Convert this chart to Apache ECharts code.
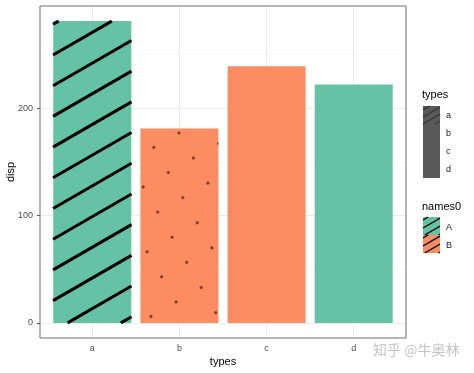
<!DOCTYPE html>
<html>
<head>
<meta charset="utf-8">
<script src="https://cdn.jsdelivr.net/npm/echarts@6/dist/echarts.min.js"></script>
<style>html,body{margin:0;padding:0;background:#fff}#c{width:474px;height:373px}</style>
</head>
<body>
<div id="c"></div>
<script>
// ---- data ----
const categories = ['a', 'b', 'c', 'd'];
const disp = [281, 181, 239, 222];
const names0 = ['A', 'B', 'B', 'A'];
const patterns = ['stripe', 'circle', 'none', 'none'];
const yMajor = [0, 100, 200];
const yMinor = [50, 150, 250];
const legendTypes = ['a', 'b', 'c', 'd'];
const legendNames = ['A', 'B'];
const xTitle = 'types';
const yTitle = 'disp';
const watermark = '知乎 @牛奥林';

const fillColors = { A: '#66C2A5', B: '#FC8D62' };
const FONT = 'Liberation Sans, Arial, sans-serif';
const BAR_W = 0.9;

function decalFor(p) {
  if (p === 'circle') return { symbol: 'circle', symbolSize: 1, dashArrayX: [[2.6, 26]], dashArrayY: [2.6, 26], rotation: -Math.PI / 6, color: 'rgba(80,35,20,0.85)' };
  return { symbol: 'none' };
}

const barData = categories.map((c, i) => ({
  value: [i + 1, disp[i]],
  itemStyle: { color: fillColors[names0[i]], decal: decalFor(patterns[i]) }
}));
const stripeData = categories.map((c, i) => [i + 1, disp[i]]).filter((d, i) => patterns[i] === 'stripe');

// clipped 30-degree line segments inside a rectangle
function stripes(x0, y0, w, h, step, lw, color, c0) {
  const t = Math.tan(Math.PI / 6);
  const els = [];
  const cMin = y0 + x0 * t, cMax = y0 + h + (x0 + w) * t;
  let c = c0;
  while (c > cMin) c -= step;
  for (; c < cMax; c += step) {
    const xa = Math.max(x0, (c - (y0 + h)) / t);
    const xb = Math.min(x0 + w, (c - y0) / t);
    if (xa < xb) els.push({ type: 'line', shape: { x1: xa, y1: c - xa * t, x2: xb, y2: c - xb * t }, style: { stroke: color, lineWidth: lw, lineCap: 'butt' }, z: 12 });
  }
  return els;
}

const graphics = [];
const LX = 423, KW = 17, KH = 18;
const tanA = Math.tan(Math.PI / 6);
graphics.push({ type: 'text', left: 422, top: 89, style: { text: 'types', font: '11px ' + FONT, fill: '#000' } });
legendTypes.forEach((t, i) => {
  const y = 106 + i * KH;
  graphics.push({ type: 'rect', shape: { x: LX, y: y, width: KW, height: KH }, style: { fill: '#595959' }, z: 11 });
  graphics.push({ type: 'text', x: 446, y: y + KH / 2 + 1, style: { text: t, font: '9px ' + FONT, fill: '#1a1a1a', verticalAlign: 'middle' } });
});
graphics.push(...stripes(LX, 106, KW, KH, 7, 1.2, '#333', 110 + LX * tanA));
graphics.push({ type: 'text', left: 422, top: 201, style: { text: 'names0', font: '11px ' + FONT, fill: '#000' } });
legendNames.forEach((n, i) => {
  const y = 217 + i * KH;
  graphics.push({ type: 'rect', shape: { x: LX, y: y, width: KW, height: KH }, style: { fill: fillColors[n] }, z: 11 });
  graphics.push(...stripes(LX, y, KW, KH, 8, 1.3, '#000', y + 3 + LX * tanA));
  graphics.push({ type: 'text', x: 446, y: y + KH / 2 + 2, style: { text: n, font: '9px ' + FONT, fill: '#1a1a1a', verticalAlign: 'middle' } });
});
graphics.push({ type: 'text', left: 373, top: 343, style: { text: watermark, font: '14px "Noto Sans CJK SC", sans-serif', fill: '#c4c4c4' } });

const chart = echarts.init(document.getElementById('c'), null, { renderer: 'canvas' });
chart.setOption({
  animation: false,
  backgroundColor: '#fff',
  grid: { left: 40, right: 68, top: 6, bottom: 35, show: true, borderColor: '#6e6e6e', borderWidth: 1, backgroundColor: 'transparent', z: 5, containLabel: false, outerBoundsMode: 'none' },
  xAxis: {
    type: 'value', min: 0.4, max: 4.6,
    name: xTitle, nameLocation: 'middle', nameGap: 18, nameMoveOverlap: false,
    nameTextStyle: { fontFamily: FONT, fontSize: 11, color: '#000', verticalAlign: 'top' },
    axisLine: { show: false },
    axisTick: { show: true, customValues: categories.map((c, i) => i + 1), length: 3, lineStyle: { color: '#555' } },
    axisLabel: { customValues: categories.map((c, i) => i + 1), formatter: v => categories[Math.round(v) - 1] || '', fontFamily: FONT, fontSize: 9, color: '#4d4d4d', margin: 6 },
    splitLine: { show: false }
  },
  yAxis: {
    type: 'value', min: -14.05, max: 295.05,
    name: yTitle, nameLocation: 'middle', nameGap: 24, nameMoveOverlap: false,
    nameTextStyle: { fontFamily: FONT, fontSize: 11, color: '#000' },
    axisLine: { show: false },
    axisTick: { show: true, customValues: yMajor, length: 3, lineStyle: { color: '#555' } },
    axisLabel: { customValues: yMajor, fontFamily: FONT, fontSize: 9, color: '#4d4d4d', margin: 7 },
    splitLine: { show: false }
  },
  series: [
    {
      type: 'line', data: [], z: 1, silent: true,
      markLine: {
        z: 1, silent: true, symbol: 'none', label: { show: false }, animation: false,
        data: [
          ...yMajor.map(v => ({ yAxis: v, lineStyle: { color: '#ebebeb', width: 1, type: 'solid' } })),
          ...yMinor.map(v => ({ yAxis: v, lineStyle: { color: '#f3f3f3', width: 0.6, type: 'solid' } })),
          ...categories.map((c, i) => ({ xAxis: i + 1, lineStyle: { color: '#ebebeb', width: 1, type: 'solid' } }))
        ]
      }
    },
    {
      type: 'bar', data: barData, barWidth: 78, z: 3
    },
    {
      type: 'custom', z: 4, silent: true, data: stripeData,
      renderItem: function (params, api) {
        const x = api.value(0), v = api.value(1);
        const p0 = api.coord([x - BAR_W / 2, v]);
        const p1 = api.coord([x + BAR_W / 2, 0]);
        const x0 = p0[0], y0 = p0[1], w = p1[0] - p0[0], h = p1[1] - p0[1];
        const c0 = (y0 + h - 22.3) + x0 * tanA;
        return { type: 'group', children: stripes(x0, y0, w, h, 30.7, 3, '#000', c0) };
      }
    }
  ],
  graphic: graphics
});
</script>
</body>
</html>
